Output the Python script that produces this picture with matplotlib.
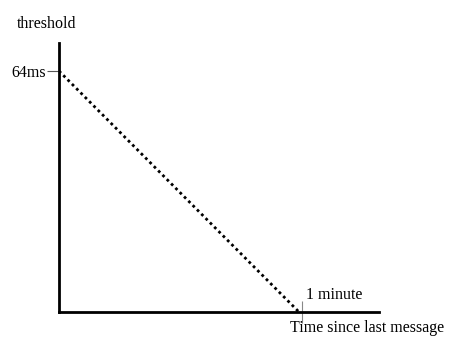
import matplotlib.pyplot as plt

# data: threshold falls linearly from 64 ms to 0 after one minute
t_sec = [0, 60]
threshold_ms = [64, 0]

plt.rcParams['font.family'] = ['Liberation Serif', 'DejaVu Serif']

W, H = 474, 355
fig = plt.figure(figsize=(W / 100, H / 100), dpi=100)
# axes placed in pixel terms: y-axis at x=59, x-axis at y=312, top 43, right 379
ax = fig.add_axes([59 / W, (H - 312) / H, (379 - 59) / W, (312 - 43) / H])

ax.plot(t_sec, threshold_ms, color='black', linestyle=(0, (1, 1.2)), linewidth=2)

ax.set_xlim(0, 80)
ax.set_ylim(0, 64 * 269 / 241)

for s in ['top', 'right']:
    ax.spines[s].set_visible(False)
for s in ['left', 'bottom']:
    ax.spines[s].set_linewidth(2)
    ax.spines[s].set_color('black')

ax.set_yticks([64])
ax.set_yticklabels(['64ms'])
ax.tick_params(axis='y', direction='out', length=9, width=0.8, color='#555555',
               labelsize=11.5, pad=0)
ax.set_xticks([60.8])
ax.set_xticklabels([''])
ax.tick_params(axis='x', direction='inout', length=16, width=0.8, color='#888888')

fig.text(17 / W, 1 - 24 / H, 'threshold', fontsize=11.5, va='center', ha='left')
fig.text(306 / W, 1 - 295 / H, '1 minute', fontsize=11.5, va='center', ha='left')
fig.text(290 / W, 1 - 328 / H, 'Time since last message', fontsize=11.5, va='center', ha='left')

plt.savefig('out.png', dpi=100)
